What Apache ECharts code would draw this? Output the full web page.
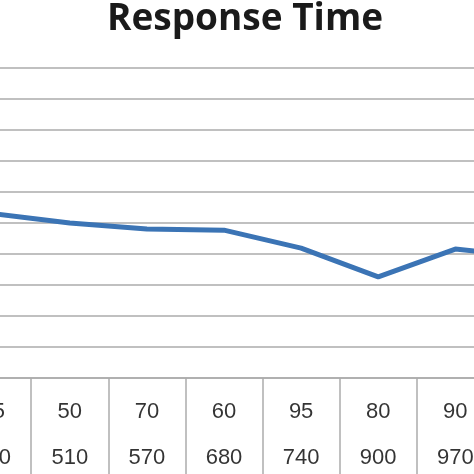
<!DOCTYPE html>
<html>
<head>
<meta charset="utf-8">
<style>
  html, body { margin: 0; padding: 0; background: #fff; }
  #chart { width: 474px; height: 474px; }
</style>
<script src="https://cdn.jsdelivr.net/npm/echarts@6/dist/echarts.min.js"></script>
</head>
<body>
<div id="chart"></div>
<script>
  // columns of the data table (the outer ones are only partly in the picture)
  const categories = ['c0', 'c1', 'c2', 'c3', 'c4', 'c5', 'c6', 'c7', 'c8']
  // plotted series (chart units, axis labels are cut off in the picture)
  const responseTime = [54, 53, 50, 48.1, 47.7, 41.9, 32.6, 41.6, 39]
  // the two visible rows of the table under the chart
  const rowOne = [40, 45, 50, 70, 60, 95, 80, 90, 100]
  const rowTwo = [400, 450, 510, 570, 680, 740, 900, 970, 1000]

  const gridColor = '#ababab'
  const textFont = 'Liberation Sans'

  let chart = echarts.init(document.getElementById('chart'))

  let option = {
    backgroundColor: '#fff',
    animation: false,
    title: {
      text: 'Response Time',
      left: 102,
      top: -4,
      textStyle: {
        fontFamily: 'Open Sans',
        fontWeight: 'bold',
        fontSize: 37,
        color: '#1a1a1a'
      }
    },
    grid: [
      { left: -123, right: -97, top: 68, height: 310, outerBoundsMode: 'none', containLabel: false },
      { left: -123, right: -97, top: 378, bottom: -10, outerBoundsMode: 'none', containLabel: false }
    ],
    xAxis: [
      {
        gridIndex: 0,
        type: 'category',
        data: categories,
        boundaryGap: true,
        axisLine: { lineStyle: { color: gridColor, width: 1.5 } },
        axisTick: { show: false },
        axisLabel: { show: false }
      },
      {
        gridIndex: 1,
        type: 'category',
        data: categories,
        boundaryGap: true,
        axisLine: { show: false },
        axisTick: { show: false },
        axisLabel: { show: false },
        splitLine: { show: true, lineStyle: { color: gridColor, width: 1.5 } }
      }
    ],
    yAxis: [
      {
        gridIndex: 0,
        type: 'value',
        min: 0,
        max: 100,
        interval: 10,
        axisLine: { show: false },
        axisTick: { show: false },
        axisLabel: { show: false },
        splitLine: { lineStyle: { color: gridColor, width: 1.5 } }
      },
      {
        gridIndex: 1,
        type: 'category',
        data: ['row one', 'row two'],
        inverse: true,
        axisLine: { show: false },
        axisTick: { show: false },
        axisLabel: { show: false },
        splitLine: { show: false }
      }
    ],
    series: [
      {
        name: 'Response Time',
        type: 'line',
        xAxisIndex: 0,
        yAxisIndex: 0,
        data: responseTime,
        symbol: 'none',
        lineStyle: { color: '#3b74b5', width: 5 }
      },
      {
        type: 'scatter',
        xAxisIndex: 1,
        yAxisIndex: 1,
        symbolSize: 0,
        data: rowOne.map((v, i) => [categories[i], 'row one', v]),
        label: {
          show: true,
          position: 'inside',
          offset: [0, 7],
          formatter: (p) => p.value[2],
          fontFamily: textFont,
          fontSize: 22,
          color: '#000'
        }
      },
      {
        type: 'scatter',
        xAxisIndex: 1,
        yAxisIndex: 1,
        symbolSize: 0,
        data: rowTwo.map((v, i) => [categories[i], 'row two', v]),
        label: {
          show: true,
          position: 'inside',
          offset: [0, 0],
          formatter: (p) => p.value[2],
          fontFamily: textFont,
          fontSize: 22,
          color: '#000'
        }
      }
    ]
  }

  chart.setOption(option)
</script>
</body>
</html>
